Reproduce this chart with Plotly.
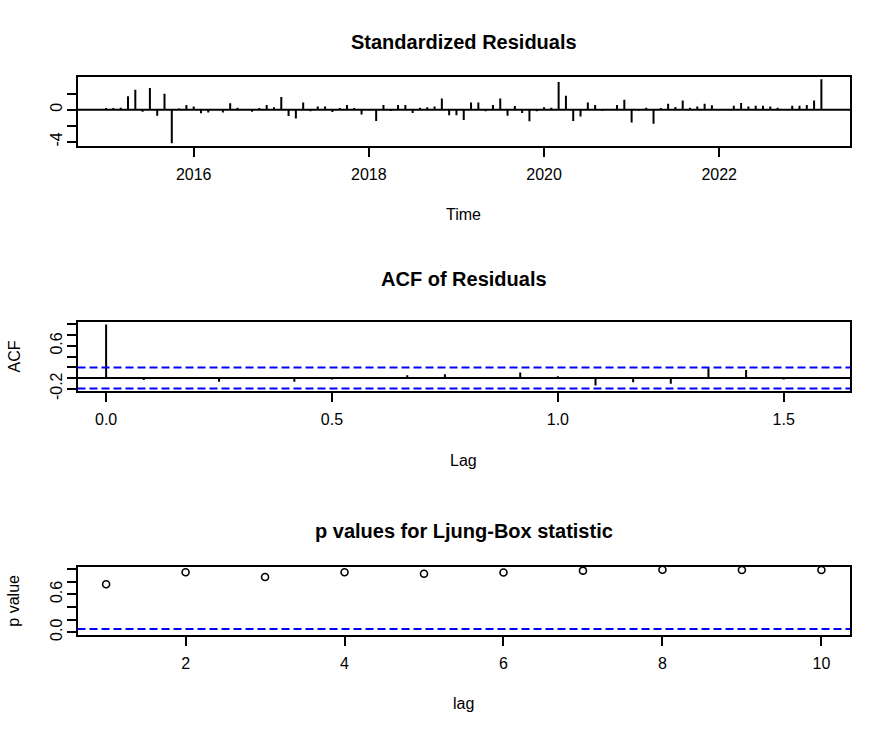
import plotly.graph_objects as go
from plotly.subplots import make_subplots

# ---------------- data ----------------
start_year = 2015
frequency = 12
std_resid = [0.2, 0.2, 0.25, 1.67, 2.5, -0.25, 2.7, -0.75, 2.0, -4.2, 0.15, 0.6,
             0.4, -0.45, -0.35, 0.05, -0.35, 0.8, 0.25, 0.05, -0.25, 0.2, 0.6,
             0.3, 1.6, -0.8, -1.1, 0.9, -0.2, 0.4, 0.4, -0.3, 0.2, 0.6, 0.2, -0.6,
             0.05, -1.4, 0.6, -0.15, 0.6, 0.6, -0.4, 0.25, 0.3, 0.4, 1.4, -0.7, -0.7,
             -1.3, 0.9, 0.9, -0.2, 0.6, 1.4, -0.75, 0.45, -0.4, -1.45, -0.2, 0.3,
             0.25, 3.46, 1.75, -1.4, -0.85, 0.9, 0.6, -0.15, 0.05, 0.6, 1.25, -1.6,
             -0.1, 0.25, -1.75, 0.2, 0.75, 0.35, 1.15, 0.25, 0.4, 0.75, 0.55, 0.05,
             0.05, 0.5, 0.85, 0.4, 0.5, 0.5, 0.4, 0.25, 0.05, 0.5, 0.5, 0.6, 1.15, 3.8]
acf_lag_months = list(range(20))
acf_values = [1.0, -0.04, 0.01, -0.07, -0.01, -0.07, -0.03, 0.01, 0.05, 0.07,
              0.01, 0.10, 0.03, -0.14, -0.08, -0.11, 0.18, 0.15, -0.03, 0.01]
acf_ci = 0.197
lb_lags = [1, 2, 3, 4, 5, 6, 7, 8, 9, 10]
lb_pvalues = [0.76, 0.95, 0.875, 0.95, 0.925, 0.945, 0.975, 0.99, 0.985, 0.985]
pval_cut = 0.05

time_ticks = [2016, 2018, 2020, 2022]
time_ticktext = ["2016", "2018", "2020", "2022"]
resid_yticks = [-4, -2, 0, 2]
resid_yticktext = ["-4", "", "0", ""]
acf_xticks = [0, 0.5, 1.0, 1.5]
acf_xticktext = ["0.0", "0.5", "1.0", "1.5"]
acf_yticks = [-0.2, 0.0, 0.2, 0.4, 0.6, 0.8, 1.0]
acf_yticktext = ["-0.2", "", "", "", "0.6", "", ""]
lb_xticks = [2, 4, 6, 8, 10]
lb_yticks = [0.0, 0.2, 0.4, 0.6, 0.8, 1.0]
lb_yticktext = ["0.0", "", "", "0.6", "", ""]

# ---------------- helpers ----------------
W = 890
H_LAYOUT = 742      # requested layout height
H = 731             # pixel height used for placing elements
FONT = "Liberation Sans, Arial, sans-serif"


def spikes(xv, yv):
    xs, ys = [], []
    for a, b in zip(xv, yv):
        xs += [a, a, None]
        ys += [0, b, None]
    return xs, ys


def padded(lo, hi, f=0.04):
    d = (hi - lo) * f
    return [lo - d, hi + d]


time = [start_year + i / frequency for i in range(len(std_resid))]
acf_lags = [m / frequency for m in acf_lag_months]

fig = make_subplots(rows=3, cols=1)

xs, ys = spikes(time, std_resid)
fig.add_trace(go.Scatter(x=xs, y=ys, mode="lines", line=dict(color="black", width=2),
                         hoverinfo="skip", showlegend=False), row=1, col=1)
xs, ys = spikes(acf_lags, acf_values)
fig.add_trace(go.Scatter(x=xs, y=ys, mode="lines", line=dict(color="black", width=2),
                         hoverinfo="skip", showlegend=False), row=2, col=1)
fig.add_trace(go.Scatter(x=lb_lags, y=lb_pvalues, mode="markers",
                         marker=dict(symbol="circle-open", size=7, color="black",
                                     line=dict(width=1.6, color="black")),
                         showlegend=False), row=3, col=1)

fig.add_hline(y=0, line=dict(color="black", width=2), row=1, col=1)
fig.add_hline(y=0, line=dict(color="black", width=2), row=2, col=1)
for v in (acf_ci, -acf_ci):
    fig.add_hline(y=v, line=dict(color="#0000FF", width=2, dash="8px,4px"), row=2, col=1)
fig.add_hline(y=pval_cut, line=dict(color="#0000FF", width=2, dash="8px,4px"), row=3, col=1)

# geometry (pixels in the page)
x0, x1 = 77.5, 850.0
boxes = [(76.5, 145.5), (321.0, 390.0), (565.0, 633.0)]
xdom = [x0 / W, x1 / W]

axis_common = dict(showline=True, linecolor="black", linewidth=2, mirror=True,
                   ticks="outside", ticklen=9, tickwidth=2, tickcolor="black",
                   showgrid=False, zeroline=False,
                   tickfont=dict(family=FONT, size=16, color="black"))

x_ranges = [padded(time[0], time[-1]), padded(acf_lags[0], acf_lags[-1]),
            padded(lb_lags[0], lb_lags[-1])]
y_ranges = [padded(min(std_resid), max(std_resid)),
            padded(min(min(acf_values), -acf_ci), max(max(acf_values), acf_ci)),
            padded(0, 1)]
xt = [(time_ticks, time_ticktext), (acf_xticks, acf_xticktext),
      (lb_xticks, [str(v) for v in lb_xticks])]
yt = [(resid_yticks, resid_yticktext), (acf_yticks, acf_yticktext),
      (lb_yticks, lb_yticktext)]

for k in range(3):
    top, bot = boxes[k]
    ydom = [1 - bot / H, 1 - top / H]
    fig.update_xaxes(domain=xdom, range=x_ranges[k], tickmode="array",
                     tickvals=xt[k][0], ticktext=xt[k][1], ticklabelstandoff=4,
                     row=k + 1, col=1, **axis_common)
    fig.update_yaxes(domain=ydom, range=y_ranges[k], tickmode="array",
                     tickvals=yt[k][0], ticktext=yt[k][1], tickangle=-90,
                     ticklabelstandoff=-2, row=k + 1, col=1, **axis_common)

cx = (x0 + x1) / 2 / W
titles = [("Standardized Residuals", 42), ("ACF of Residuals", 278),
          ("p values for Ljung-Box statistic", 530)]
for txt, ypx in titles:
    fig.add_annotation(text="<b>%s</b>" % txt, x=cx, y=1 - ypx / H, xref="paper", yref="paper",
                       showarrow=False, xanchor="center", yanchor="middle",
                       font=dict(family=FONT, size=20, color="black"))
xlabels = [("Time", 214), ("Lag", 459), ("lag", 702)]
for txt, ypx in xlabels:
    fig.add_annotation(text=txt, x=cx, y=1 - ypx / H, xref="paper", yref="paper",
                       showarrow=False, xanchor="center", yanchor="middle",
                       font=dict(family=FONT, size=16, color="black"))
ylabels = [("ACF", 355.5), ("p value", 599)]
for txt, ypx in ylabels:
    fig.add_annotation(text=txt, x=14 / W, y=1 - ypx / H, xref="paper", yref="paper",
                       showarrow=False, xanchor="center", yanchor="middle", textangle=-90,
                       font=dict(family=FONT, size=16, color="black"))

fig.update_layout(width=W, height=H_LAYOUT, margin=dict(l=0, r=0, t=0, b=0),
                  paper_bgcolor="white", plot_bgcolor="white", showlegend=False)

fig.write_html("out.html")
